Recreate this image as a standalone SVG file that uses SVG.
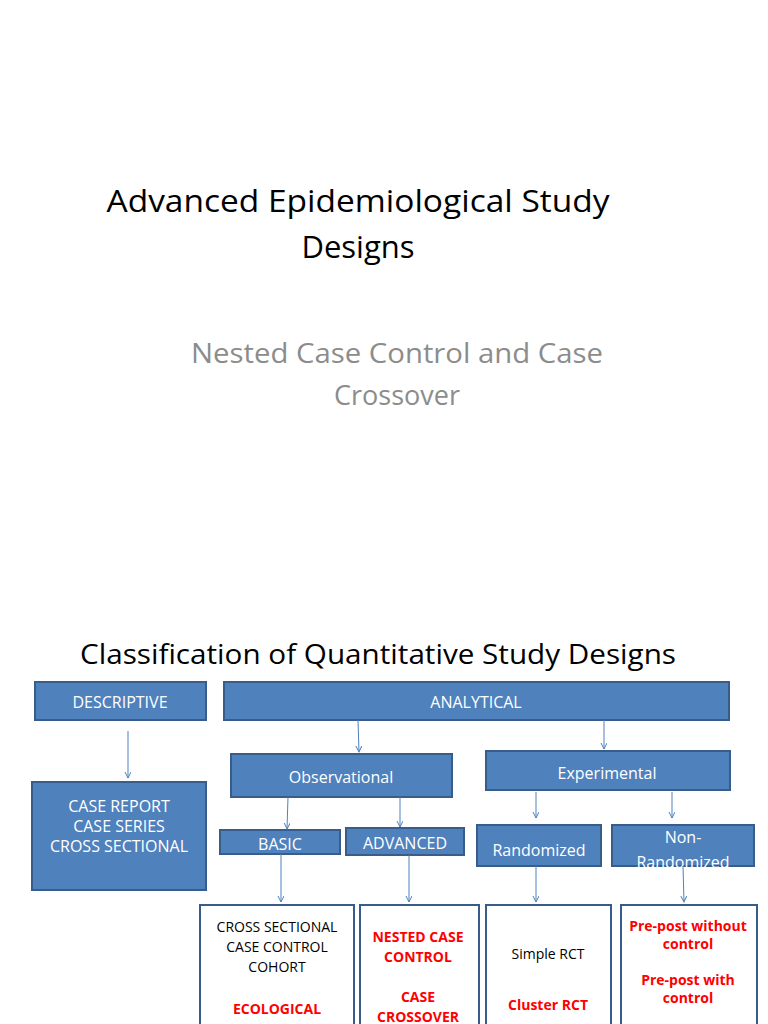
<svg xmlns="http://www.w3.org/2000/svg" width="768" height="1024" viewBox="0 0 768 1024">
<style>
text{font-family:"Open Sans","DejaVu Sans",sans-serif;text-anchor:middle}
.b{fill:#4f81bd;stroke:#385d8a;stroke-width:2}
.w{fill:#fff;stroke:#385d8a;stroke-width:2}
.bt{fill:#fff;font-size:16px}
.k{fill:#000;font-size:14px}
.r{fill:#ff0000;font-weight:bold;font-size:14px}
.c line{stroke:#4f81bd;stroke-width:1}
</style>
<defs><marker id="a" markerWidth="8" markerHeight="8" refX="6" refY="3" orient="auto"><path d="M0,0 L6,3 L0,6" fill="none" stroke="#4f81bd"/></marker></defs>
<rect width="768" height="1024" fill="#fff"/>
<text x="358" y="212" font-size="31" textLength="503" lengthAdjust="spacingAndGlyphs">Advanced Epidemiological Study</text>
<text x="358" y="258" font-size="31">Designs</text>
<text x="397" y="363" font-size="27" fill="#8c8c8c" textLength="412" lengthAdjust="spacingAndGlyphs">Nested Case Control and Case</text>
<text x="397" y="405" font-size="27" fill="#8c8c8c">Crossover</text>
<text x="378" y="664" font-size="28" textLength="596" lengthAdjust="spacingAndGlyphs">Classification of Quantitative Study Designs</text>
<g id="descriptive"><rect class="b" x="35" y="682" width="171" height="38"/><text class="bt" x="120" y="708">DESCRIPTIVE</text></g>
<g id="analytical"><rect class="b" x="224" y="682" width="505" height="38"/><text class="bt" x="476" y="708">ANALYTICAL</text></g>
<g id="caselist"><rect class="b" x="32" y="782" width="174" height="108"/><text class="bt" font-size="14" x="119" y="812">CASE REPORT</text><text class="bt" font-size="14" x="119" y="832">CASE SERIES</text><text class="bt" font-size="14" x="119" y="852">CROSS SECTIONAL</text></g>
<g id="observational"><rect class="b" x="231" y="754" width="221" height="43"/><text class="bt" font-size="18" x="341" y="783">Observational</text></g>
<g id="experimental"><rect class="b" x="486" y="751" width="244" height="39"/><text class="bt" font-size="18" x="607" y="779">Experimental</text></g>
<g id="basic"><rect class="b" x="220" y="830" width="120" height="24"/><text class="bt" x="280" y="850">BASIC</text></g>
<g id="advanced"><rect class="b" x="346" y="828" width="118" height="27"/><text class="bt" x="405" y="849">ADVANCED</text></g>
<g id="randomized"><rect class="b" x="477" y="825" width="124" height="41"/><text class="bt" font-size="18" x="539" y="856">Randomized</text></g>
<g id="nonrandomized"><rect class="b" x="612" y="825" width="142" height="41"/><text class="bt" font-size="18" x="683" y="843">Non-</text><text class="bt" font-size="18" x="683" y="868">Randomized</text></g>
<g id="basiclist"><rect class="w" x="200" y="905" width="154" height="130"/><text class="k" x="277" y="932">CROSS SECTIONAL</text><text class="k" x="277" y="952">CASE CONTROL</text><text class="k" x="277" y="972">COHORT</text><text class="r" font-size="15" x="277" y="1014">ECOLOGICAL</text></g>
<g id="advancedlist"><rect class="w" x="360" y="905" width="119" height="130"/><text class="r" x="418" y="942">NESTED CASE</text><text class="r" x="418" y="962">CONTROL</text><text class="r" x="418" y="1002">CASE</text><text class="r" x="418" y="1022">CROSSOVER</text></g>
<g id="rctlist"><rect class="w" x="486" y="905" width="125" height="130"/><text class="k" font-size="18" x="548" y="959">Simple RCT</text><text class="r" font-size="18" x="548" y="1010">Cluster RCT</text></g>
<g id="prepostlist"><rect class="w" x="621" y="905" width="136" height="130"/><text class="r" font-size="13" x="688" y="931">Pre-post without</text><text class="r" font-size="13" x="688" y="949">control</text><text class="r" font-size="13" x="688" y="985">Pre-post with</text><text class="r" font-size="13" x="688" y="1003">control</text></g>
<g id="connectors" class="c">
<line x1="128" y1="731" x2="128" y2="778" marker-end="url(#a)"/>
<line x1="358" y1="720" x2="359" y2="752" marker-end="url(#a)"/>
<line x1="604" y1="720" x2="604" y2="749" marker-end="url(#a)"/>
<line x1="288" y1="797" x2="287" y2="829" marker-end="url(#a)"/>
<line x1="400" y1="797" x2="400" y2="827" marker-end="url(#a)"/>
<line x1="536" y1="792" x2="536" y2="818" marker-end="url(#a)"/>
<line x1="672" y1="792" x2="672" y2="818" marker-end="url(#a)"/>
<line x1="281" y1="854" x2="281" y2="902" marker-end="url(#a)"/>
<line x1="409" y1="855" x2="409" y2="902" marker-end="url(#a)"/>
<line x1="536" y1="866" x2="536" y2="902" marker-end="url(#a)"/>
<line x1="683" y1="866" x2="684" y2="902" marker-end="url(#a)"/>
</g>
</svg>
